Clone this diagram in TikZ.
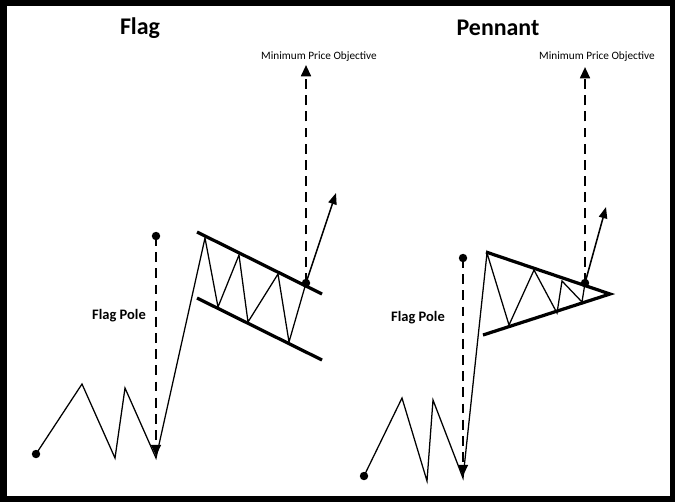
\documentclass[tikz,border=0pt]{standalone}
\usepackage{fontspec}
\setmainfont{Carlito}
\usetikzlibrary{arrows.meta}

\tikzset{
  price/.style={line width=0.9pt, line join=miter},
  bound/.style={line width=2.3pt},
  target/.style={line width=1.5pt, dash pattern=on 7pt off 4.5pt, -{Triangle[length=8pt,width=7pt]}},
  breakout/.style={line width=1.1pt, -{Triangle[length=8pt,width=6pt]}},
  dot/.style={circle, fill, inner sep=0pt, minimum size=6pt},
  title/.style={font=\fontsize{17}{20}\selectfont\bfseries},
  poletext/.style={font=\fontsize{10.3}{12}\selectfont\bfseries},
  objtext/.style={font=\fontsize{8}{10}\selectfont},
}

\begin{document}
\begin{tikzpicture}[x=0.025cm, y=-0.025cm]
\useasboundingbox (0,0) rectangle (675,502);
\fill[black] (0,0) rectangle (675,502);
\fill[white] (7,6) rectangle (670,496);

% Flag
\node[title] (flagtitle) at (140,28) {Flag};
\node[objtext] (flagobj) at (319,57) {Minimum Price Objective};
\node[poletext] (flagpole) at (119,316) {Flag Pole};
\node[dot] (fstart) at (36,454) {};
\node[dot] (ftop) at (156,236) {};
\node[dot] (fbreak) at (306,283) {};
\coordinate (fa) at (82,384);
\coordinate (fb) at (115,458);
\coordinate (fc) at (125,388);
\coordinate (fd) at (156,458);
\coordinate (fe) at (205,238);
\coordinate (ff) at (218,307);
\coordinate (fg) at (239,255);
\coordinate (fh) at (248,322);
\coordinate (fi) at (278,274);
\coordinate (fj) at (289,342);
\coordinate (fk) at (336,193);
\coordinate (fpolebot) at (156,456);
\coordinate (fobj) at (306,65);
\coordinate (fu1) at (197,232);
\coordinate (fu2) at (322,294);
\coordinate (fl1) at (197,298);
\coordinate (fl2) at (322,360);
\draw[price] (fstart.center) -- (fa) -- (fb) -- (fc) -- (fd) -- (fe) -- (ff) -- (fg) -- (fh) -- (fi) -- (fj) -- (fbreak.center);
\draw[breakout] (fbreak.center) -- (fk);
\draw[bound] (fu1) -- (fu2);
\draw[bound] (fl1) -- (fl2);
\draw[target] (ftop.center) -- (fpolebot);
\draw[target] (fbreak.center) -- (fobj);

% Pennant
\node[title] (pentitle) at (498,28) {Pennant};
\node[objtext] (penobj) at (597,57) {Minimum Price Objective};
\node[poletext] (penpole) at (418,318) {Flag Pole};
\node[dot] (pstart) at (364,476) {};
\node[dot] (ptop) at (463,258) {};
\node[dot] (pbreak) at (585,283) {};
\coordinate (pa) at (402,398);
\coordinate (pb) at (427,481);
\coordinate (pc) at (433,400);
\coordinate (pd) at (463,478);
\coordinate (pe) at (487,253);
\coordinate (pf) at (509,325);
\coordinate (pg) at (534,270);
\coordinate (ph) at (557,313);
\coordinate (pi) at (562,281);
\coordinate (pj) at (582,302);
\coordinate (pk) at (606,207);
\coordinate (ppolebot) at (463,476);
\coordinate (pobj) at (585,67);
\coordinate (pu1) at (486,252);
\coordinate (pl1) at (483,335);
\coordinate (papex) at (610,294);
\draw[price] (pstart.center) -- (pa) -- (pb) -- (pc) -- (pd) -- (pe) -- (pf) -- (pg) -- (ph) -- (pi) -- (pj) -- (pbreak.center);
\draw[breakout] (pbreak.center) -- (pk);
\draw[bound] (pu1) -- (papex) -- (pl1);
\draw[target] (ptop.center) -- (ppolebot);
\draw[target] (pbreak.center) -- (pobj);
\end{tikzpicture}
\end{document}
